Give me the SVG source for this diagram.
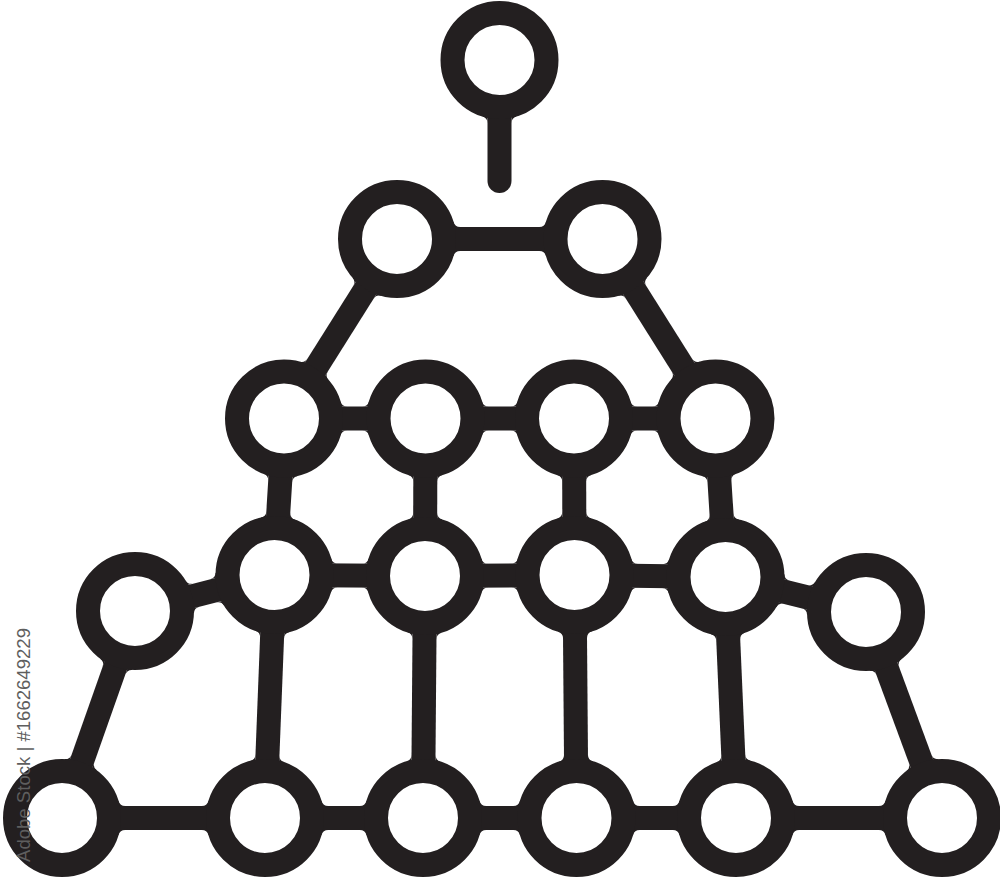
<svg xmlns="http://www.w3.org/2000/svg" width="1000" height="878" viewBox="0 0 1000 878">
<style>
.c{stroke:#231f20;stroke-width:24;fill:none;stroke-linecap:butt}
.n{stroke:#231f20;stroke-width:24;fill:#ffffff}
.f{fill:#231f20;stroke:none}
.wm{font-family:"Liberation Sans",Arial,sans-serif;font-size:18px;fill:#5e5e5e}
</style>
<defs>
<path id="fl" d="M63.21 12 A7 7 0 0 0 56.5 16.98 L50 12 Z M63.21 -12 A7 7 0 0 1 56.5 -16.98 L50 -12 Z"/>
</defs>
<rect width="1000" height="878" fill="#ffffff"/>
<g id="connectors">
<g class="c">
<line x1="499.5" y1="100" x2="499.5" y2="181" stroke-linecap="round"/>
<line x1="397" y1="239" x2="602.5" y2="239"/>
<line x1="397" y1="239" x2="284" y2="418.5"/>
<line x1="602.5" y1="239" x2="715.5" y2="418.5"/>
<line x1="284" y1="418.5" x2="715.5" y2="418.5"/>
<line x1="284" y1="418.5" x2="274.5" y2="575"/>
<line x1="425.5" y1="418.5" x2="425" y2="576"/>
<line x1="574" y1="418.5" x2="574.5" y2="575"/>
<line x1="715.5" y1="418.5" x2="725.5" y2="577"/>
<line x1="135" y1="611" x2="274.5" y2="575"/>
<line x1="274.5" y1="575" x2="425" y2="576"/>
<line x1="425" y1="576" x2="574.5" y2="575"/>
<line x1="574.5" y1="575" x2="725.5" y2="577"/>
<line x1="725.5" y1="577" x2="866" y2="612"/>
<line x1="135" y1="611" x2="62" y2="818"/>
<line x1="866" y1="612" x2="942" y2="818"/>
<line x1="274.5" y1="575" x2="265" y2="818"/>
<line x1="425" y1="576" x2="423" y2="818"/>
<line x1="574.5" y1="575" x2="576.5" y2="818"/>
<line x1="725.5" y1="577" x2="736" y2="818"/>
<line x1="62" y1="818" x2="942" y2="818"/>
</g>
<g class="f">
<use href="#fl" transform="translate(499.5 60) rotate(90)"/>
<use href="#fl" transform="translate(397 239) rotate(0)"/>
<use href="#fl" transform="translate(602.5 239) rotate(180)"/>
<use href="#fl" transform="translate(397 239) rotate(122.2)"/>
<use href="#fl" transform="translate(284 418.5) rotate(-57.8)"/>
<use href="#fl" transform="translate(602.5 239) rotate(57.8)"/>
<use href="#fl" transform="translate(715.5 418.5) rotate(-122.2)"/>
<use href="#fl" transform="translate(284 418.5) rotate(0)"/>
<use href="#fl" transform="translate(425.5 418.5) rotate(180)"/>
<use href="#fl" transform="translate(425.5 418.5) rotate(0)"/>
<use href="#fl" transform="translate(574 418.5) rotate(180)"/>
<use href="#fl" transform="translate(574 418.5) rotate(0)"/>
<use href="#fl" transform="translate(715.5 418.5) rotate(180)"/>
<use href="#fl" transform="translate(284 418.5) rotate(93.5)"/>
<use href="#fl" transform="translate(274.5 575) rotate(-86.5)"/>
<use href="#fl" transform="translate(425.5 418.5) rotate(90.2)"/>
<use href="#fl" transform="translate(425 576) rotate(-89.8)"/>
<use href="#fl" transform="translate(574 418.5) rotate(89.8)"/>
<use href="#fl" transform="translate(574.5 575) rotate(-90.2)"/>
<use href="#fl" transform="translate(715.5 418.5) rotate(86.4)"/>
<use href="#fl" transform="translate(725.5 577) rotate(-93.6)"/>
<use href="#fl" transform="translate(135 611) rotate(-14.5)"/>
<use href="#fl" transform="translate(274.5 575) rotate(165.5)"/>
<use href="#fl" transform="translate(274.5 575) rotate(0.4)"/>
<use href="#fl" transform="translate(425 576) rotate(-179.6)"/>
<use href="#fl" transform="translate(425 576) rotate(-0.4)"/>
<use href="#fl" transform="translate(574.5 575) rotate(179.6)"/>
<use href="#fl" transform="translate(574.5 575) rotate(0.76)"/>
<use href="#fl" transform="translate(725.5 577) rotate(-179.24)"/>
<use href="#fl" transform="translate(725.5 577) rotate(14)"/>
<use href="#fl" transform="translate(866 612) rotate(-166)"/>
<use href="#fl" transform="translate(135 611) rotate(109.4)"/>
<use href="#fl" transform="translate(62 818) rotate(-70.6)"/>
<use href="#fl" transform="translate(866 612) rotate(69.7)"/>
<use href="#fl" transform="translate(942 818) rotate(-110.3)"/>
<use href="#fl" transform="translate(274.5 575) rotate(92.2)"/>
<use href="#fl" transform="translate(265 818) rotate(-87.8)"/>
<use href="#fl" transform="translate(425 576) rotate(90.5)"/>
<use href="#fl" transform="translate(423 818) rotate(-89.5)"/>
<use href="#fl" transform="translate(574.5 575) rotate(89.5)"/>
<use href="#fl" transform="translate(576.5 818) rotate(-90.5)"/>
<use href="#fl" transform="translate(725.5 577) rotate(87.5)"/>
<use href="#fl" transform="translate(736 818) rotate(-92.5)"/>
<use href="#fl" transform="translate(62 818) rotate(0)"/>
<use href="#fl" transform="translate(265 818) rotate(180)"/>
<use href="#fl" transform="translate(265 818) rotate(0)"/>
<use href="#fl" transform="translate(423 818) rotate(180)"/>
<use href="#fl" transform="translate(423 818) rotate(0)"/>
<use href="#fl" transform="translate(576.5 818) rotate(180)"/>
<use href="#fl" transform="translate(576.5 818) rotate(0)"/>
<use href="#fl" transform="translate(736 818) rotate(180)"/>
<use href="#fl" transform="translate(736 818) rotate(0)"/>
<use href="#fl" transform="translate(942 818) rotate(180)"/>
</g>
</g>
<g id="n0"><circle class="n" cx="499.5" cy="60" r="47"/></g>
<g id="n1"><circle class="n" cx="397" cy="239" r="47"/></g>
<g id="n2"><circle class="n" cx="602.5" cy="239" r="47"/></g>
<g id="n3"><circle class="n" cx="284" cy="418.5" r="47"/></g>
<g id="n4"><circle class="n" cx="425.5" cy="418.5" r="47"/></g>
<g id="n5"><circle class="n" cx="574" cy="418.5" r="47"/></g>
<g id="n6"><circle class="n" cx="715.5" cy="418.5" r="47"/></g>
<g id="n7"><circle class="n" cx="135" cy="611" r="47"/></g>
<g id="n8"><circle class="n" cx="274.5" cy="575" r="47"/></g>
<g id="n9"><circle class="n" cx="425" cy="576" r="47"/></g>
<g id="n10"><circle class="n" cx="574.5" cy="575" r="47"/></g>
<g id="n11"><circle class="n" cx="725.5" cy="577" r="47"/></g>
<g id="n12"><circle class="n" cx="866" cy="612" r="47"/></g>
<g id="n13"><circle class="n" cx="62" cy="818" r="47"/></g>
<g id="n14"><circle class="n" cx="265" cy="818" r="47"/></g>
<g id="n15"><circle class="n" cx="423" cy="818" r="47"/></g>
<g id="n16"><circle class="n" cx="576.5" cy="818" r="47"/></g>
<g id="n17"><circle class="n" cx="736" cy="818" r="47"/></g>
<g id="n18"><circle class="n" cx="942" cy="818" r="47"/></g>
<text class="wm" transform="translate(30 862) rotate(-90)" textLength="234" lengthAdjust="spacingAndGlyphs">Adobe Stock | #1662649229</text>
</svg>
